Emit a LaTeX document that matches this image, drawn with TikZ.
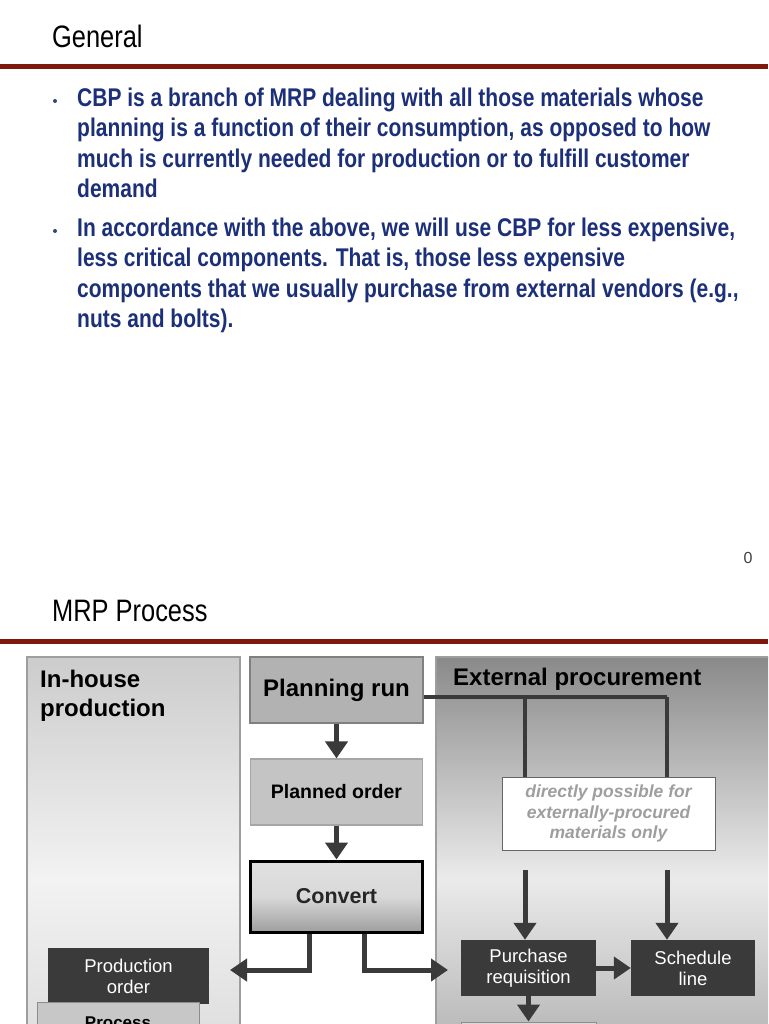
\documentclass[tikz,border=0pt]{standalone}
\usepackage{fontspec}
\setmainfont{Liberation Sans}
\newfontfamily\narrowfont[FakeStretch=0.82]{Liberation Sans}
\usetikzlibrary{arrows.meta}
\definecolor{slidered}{RGB}{128,24,14}
\definecolor{slideblue}{RGB}{28,48,122}
\definecolor{arrowgray}{RGB}{58,58,58}
\definecolor{darkfill}{RGB}{58,58,58}

\begin{document}
\begin{tikzpicture}[x=1pt,y=-1pt,
  slidetitle/.style={anchor=west, inner sep=0pt, font=\narrowfont\fontsize{31}{36}\selectfont},
  bullettext/.style={anchor=north west, inner sep=0pt, align=left, text=slideblue,
    font=\narrowfont\bfseries\fontsize{25.6}{30.5}\selectfont},
  bulletdot/.style={circle, fill=slideblue!75!gray, inner sep=0pt, minimum size=4pt},
  paneltitle/.style={anchor=north west, inner sep=0pt, align=left, font=\bfseries\fontsize{24}{29}\selectfont},
  midbox/.style={draw=black!50, line width=1.2pt, minimum width=172, minimum height=66, inner sep=0pt},
  darkbox/.style={fill=darkfill, text=white, align=center, inner sep=0pt,
    font=\fontsize{18.5}{21}\selectfont},
  notebox/.style={draw=black!60, fill=white, line width=1pt, align=center, inner sep=0pt,
    text=black!38, font=\bfseries\itshape\fontsize{17.5}{20.5}\selectfont},
  fatline/.style={draw=arrowgray, line width=4.5pt},
  fatarrow/.style={draw=arrowgray, line width=5pt, -{Triangle[width=22pt,length=17pt]}}]

\useasboundingbox (0,0) rectangle (768,1024);
\clip (0,0) rectangle (768,1024);
\fill[white] (0,0) rectangle (768,1024);

% slide: General
\node[slidetitle] (gentitle) at (52,36) {General};
\fill[slidered] (0,64) rectangle (768,69);
\node[bulletdot] (dot1) at (55,101) {};
\node[bullettext] (bul1) at (77,87.5) {CBP is a branch of MRP dealing with all those materials whose\\
  planning is a function of their consumption, as opposed to how\\
  much is currently needed for production or to fulfill customer\\
  demand};
\node[bulletdot] (dot2) at (55,231) {};
\node[bullettext] (bul2) at (77,217.5) {In accordance with the above, we will use CBP for less expensive,\\
  less critical components. That is, those less expensive\\
  components that we usually purchase from external vendors (e.g.,\\
  nuts and bolts).};
\node[font=\fontsize{16}{18}\selectfont, text=black!75, inner sep=0pt] (pgnum) at (748,558) {0};

% slide: MRP Process
\node[slidetitle] (mrptitle) at (52,611) {MRP Process};
\fill[slidered] (0,639) rectangle (768,644);

\path[draw=black!38, line width=1.2pt, top color=black!20, bottom color=black!16, middle color=black!5]
  (27,657) rectangle (240,1100);
\path[draw=black!38, line width=1.2pt, top color=black!46, bottom color=black!36, middle color=black!8]
  (436,657) rectangle (772,1100);
\node[paneltitle] (inhouse) at (40,670) {In-house\\production};
\node[paneltitle, anchor=west] (external) at (453,679) {External procurement};

\node[midbox, fill=black!30, minimum width=173, font=\bfseries\fontsize{24}{29}\selectfont] (plan) at (336.5,690) {Planning run};
\node[midbox, fill=black!23, draw=black!35, font=\bfseries\fontsize{19.5}{23}\selectfont] (planned) at (336.5,792) {Planned order};
\node[midbox, draw=black, line width=3pt, minimum height=71, top color=black!12, bottom color=black!38, middle color=black!15,
  text=black!85, font=\bfseries\fontsize{21.5}{25}\selectfont] (convert) at (336.5,896.5) {Convert};

\node[notebox, minimum width=213, minimum height=73] (note) at (608.5,813.5) {directly possible for\\externally-procured\\materials only};

\node[darkbox, minimum width=161, minimum height=56] (prodord) at (128.5,976) {Production\\order};
\node[draw=black!45, fill=black!22, line width=1pt, minimum width=162, minimum height=42, inner sep=0pt,
  font=\bfseries\fontsize{17}{20}\selectfont] (process) at (118,1023) {Process};
\node[darkbox, minimum width=135, minimum height=56] (purch) at (528.5,968) {Purchase\\requisition};
\node[darkbox, minimum width=124, minimum height=56] (sched) at (693,968) {Schedule\\line};
\node[draw=black!45, fill=black!15, line width=1pt, minimum width=135, minimum height=20, inner sep=0pt] (nextbox) at (528.5,1032) {};

\coordinate (leftin) at (230,970);
\coordinate (rightin) at (448,970);
\coordinate (forkL) at (525,697);
\coordinate (forkR) at (667,697);
\coordinate (dropL) at (525,870);
\coordinate (dropR) at (667,870);

\draw[fatarrow] (plan) -- (planned);
\draw[fatarrow] (planned) -- (convert);
\draw[fatarrow] ([xshift=-27pt]convert.south) |- (leftin);
\draw[fatarrow] ([xshift=28pt]convert.south) |- (rightin);
\draw[fatline] ([yshift=-7pt]plan.east) -- (forkR);
\draw[fatline] (forkL) -- (forkL |- note.north);
\draw[fatline] (forkR) -- (forkR |- note.north);
\draw[fatarrow] (dropL) -- (dropL |- purch.north);
\draw[fatarrow] (dropR) -- (dropR |- sched.north);
\draw[fatarrow] (purch) -- (sched);
\draw[fatarrow] (purch) -- (nextbox);
\end{tikzpicture}
\end{document}
